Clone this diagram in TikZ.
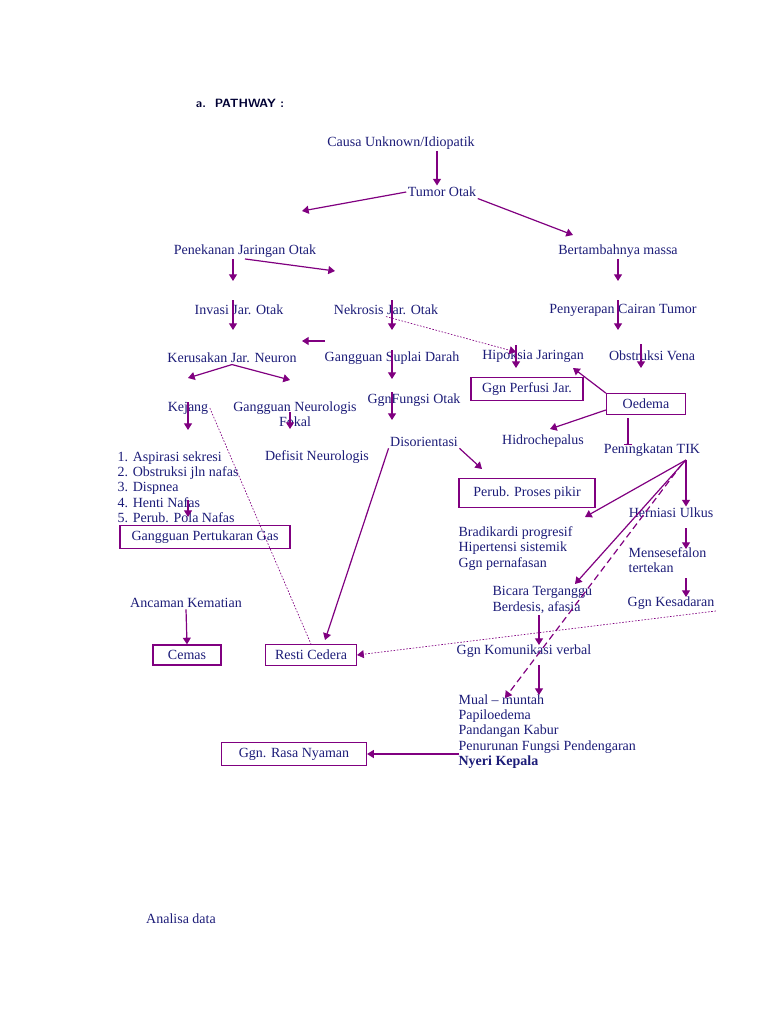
\documentclass[tikz,border=0pt]{standalone}
\usepackage{fontspec}
\setmainfont{Liberation Serif}
\usetikzlibrary{arrows.meta}
\definecolor{txtblue}{HTML}{1C1C78}
\definecolor{arrpurple}{HTML}{800080}
\tikzset{Lbl/.style={%
    text=txtblue,%
    font=\fontsize{10.5}{11.5}\selectfont,%
    inner sep=1pt,%
}}
\tikzset{Box/.style={%
    Lbl,%
    draw=arrpurple,%
    line width=0.9pt,%
    inner sep=4pt,%
}}
\tikzset{ListLbl/.style={%
    Lbl,%
    anchor=north west,%
    align=left,%
}}
\tikzset{Flow/.style={%
    -{Triangle[length=5pt,width=6pt]},%
    draw=arrpurple,%
    line width=0.9pt,%
}}
\tikzset{Dotted/.style={%
    Flow,%
    line width=0.5pt,%
    dash pattern=on 1.2pt off 1.2pt,%
}}
\begin{document}
\begin{tikzpicture}[x=0.75pt,y=-0.75pt]
    \useasboundingbox (0,0) rectangle (768,1024);
    \node[Lbl, font=\sffamily\bfseries\small, text=black!80!blue] (title) at (240,103) {a.\ \ PATHWAY :};

    \node[Lbl] (causa) at (401,143) {Causa Unknown/Idiopatik};
    \node[Lbl] (tumor) at (442,192) {Tumor Otak};
    \node[Lbl] (tekan) at (245,251) {Penekanan Jaringan Otak};
    \node[Lbl] (massa) at (618,251) {Bertambahnya massa};
    \node[Lbl] (invasi) at (239,310) {Invasi Jar. Otak};
    \node[Lbl] (nekrosis) at (386,310) {Nekrosis Jar. Otak};
    \node[Lbl] (serap) at (623,310) {Penyerapan Cairan Tumor};
    \node[Lbl] (rusak) at (232,358) {Kerusakan Jar. Neuron};
    \node[Lbl] (suplai) at (392,358) {Gangguan Suplai Darah};
    \node[Lbl] (hipoksia) at (533,356) {Hipoksia Jaringan};
    \node[Lbl] (vena) at (652,356) {Obstruksi Vena};
    \node[Box, minimum width=112pt*0.75] (perfusi) at (527,389) {Ggn Perfusi Jar.};
    \node[Box, minimum width=79pt*0.75] (oedema) at (646,404) {Oedema};
    \node[Lbl] (kejang) at (188,408) {Kejang};
    \node[Lbl, align=center] (fokal) at (295,414) {Gangguan Neurologis\\Fokal};
    \node[Lbl] (fungsi) at (414,400) {GgnFungsi Otak};
    \node[Lbl] (disor) at (424,442) {Disorientasi};
    \node[Lbl] (hidro) at (543,441) {Hidrochepalus};
    \node[Lbl] (tik) at (652,450) {Peningkatan TIK};
    \node[ListLbl] (nafas) at (116,450) {1. Aspirasi sekresi\\2. Obstruksi jln nafas\\3. Dispnea\\4. Henti Nafas\\5. Perub. Pola Nafas};
    \node[Lbl] (defisit) at (317,457) {Defisit Neurologis};
    \node[Box, minimum width=136pt*0.75, minimum height=29pt*0.75] (pikir) at (527,493) {Perub. Proses pikir};
    \node[ListLbl] (bradi) at (457,525) {Bradikardi progresif\\Hipertensi sistemik\\Ggn pernafasan};
    \node[Lbl] (hernia) at (671,513) {Herniasi Ulkus};
    \node[ListLbl] (mesen) at (627,546) {Mensesefalon\\tertekan};
    \node[Box, minimum width=170pt*0.75] (gas) at (205,537) {Gangguan Pertukaran Gas};
    \node[Lbl] (ancam) at (186,603) {Ancaman Kematian};
    \node[ListLbl] (bicara) at (491,585) {Bicara Terganggu\\Berdesis, afasia};
    \node[Lbl] (sadar) at (671,603) {Ggn Kesadaran};
    \node[Box, minimum width=68pt*0.75] (cemas) at (187,655) {Cemas};
    \node[Box, minimum width=91pt*0.75] (resti) at (311,655) {Resti Cedera};
    \node[Lbl] (verbal) at (524,651) {Ggn Komunikasi verbal};
    \node[ListLbl] (mual) at (457,693) {Mual -- muntah\\Papiloedema\\Pandangan Kabur\\Penurunan Fungsi Pendengaran\\\textbf{Nyeri Kepala}};
    \node[Box, minimum width=145pt*0.75] (nyaman) at (294,754) {Ggn. Rasa Nyaman};
    \node[Lbl] (analisa) at (181,919) {Analisa data};

    \draw[Flow] (causa.south -| 437,0) -- (tumor.north -| 437,0);
    \draw[Flow] (tumor.west) -- (302,211);
    \draw[Flow] (tumor.south east) -- (573,235);
    \draw[Flow] (tekan.south -| 233,0) -- (233,281);
    \draw[Flow] (tekan.south) -- (335,271);
    \draw[Flow] (massa.south) -- (618,281);
    \draw[Flow] (233,300) -- (233,330);
    \draw[Flow] (392,300) -- (392,330);
    \draw[Flow] (618,300) -- (618,330);
    \draw[Flow] (325,341) -- (302,341);
    \draw[Dotted] (nekrosis.south) -- (516,352);
    \draw[Flow] (rusak.south) -- (188,378);
    \draw[Flow] (rusak.south) -- (290,380);
    \draw[Flow] (392,350) -- (392,379);
    \draw[Flow] (392,392) -- (392,420);
    \draw[Flow] (516,345) -- (516,368);
    \draw[Flow] (641,344) -- (641,368);
    \draw[Flow] (oedema.north west) -- (573,368);
    \draw[Flow] (oedema.west |- 0,410) -- (550,429);
    \draw[-|, draw=arrpurple, line width=0.9pt] (628,418) -- (628,445);
    \draw[Flow] (188,402) -- (188,430);
    \draw[Dotted, -] (kejang.east) -- (resti.north);
    \draw[Flow] (290,412) -- (290,429);
    \draw[Flow] (disor.south west) -- (325,640);
    \draw[Flow] (disor.south east) -- (482,469);
    \draw[Flow] (188,500) -- (188,517);
    \coordinate (tikhub) at (686,460);
    \draw[Flow] (tikhub) -- (585,517);
    \draw[Flow] (tikhub) -- (hernia.north -| tikhub);
    \draw[Flow] (tikhub) -- (575,584);
    \draw[Flow, dash pattern=on 5pt off 3pt] (682,464) -- (505,698);
    \draw[Flow] (686,528) -- (686,549);
    \draw[Flow] (686,578) -- (686,597);
    \draw[Dotted] (sadar.south east) -- (resti.east);
    \draw[Flow] (ancam.south) -- (cemas.north);
    \draw[Flow] (539,615) -- (539,645);
    \draw[Flow] (539,665) -- (539,695);
    \draw[Flow] (459,754) -- (nyaman.east);
\end{tikzpicture}
\end{document}
